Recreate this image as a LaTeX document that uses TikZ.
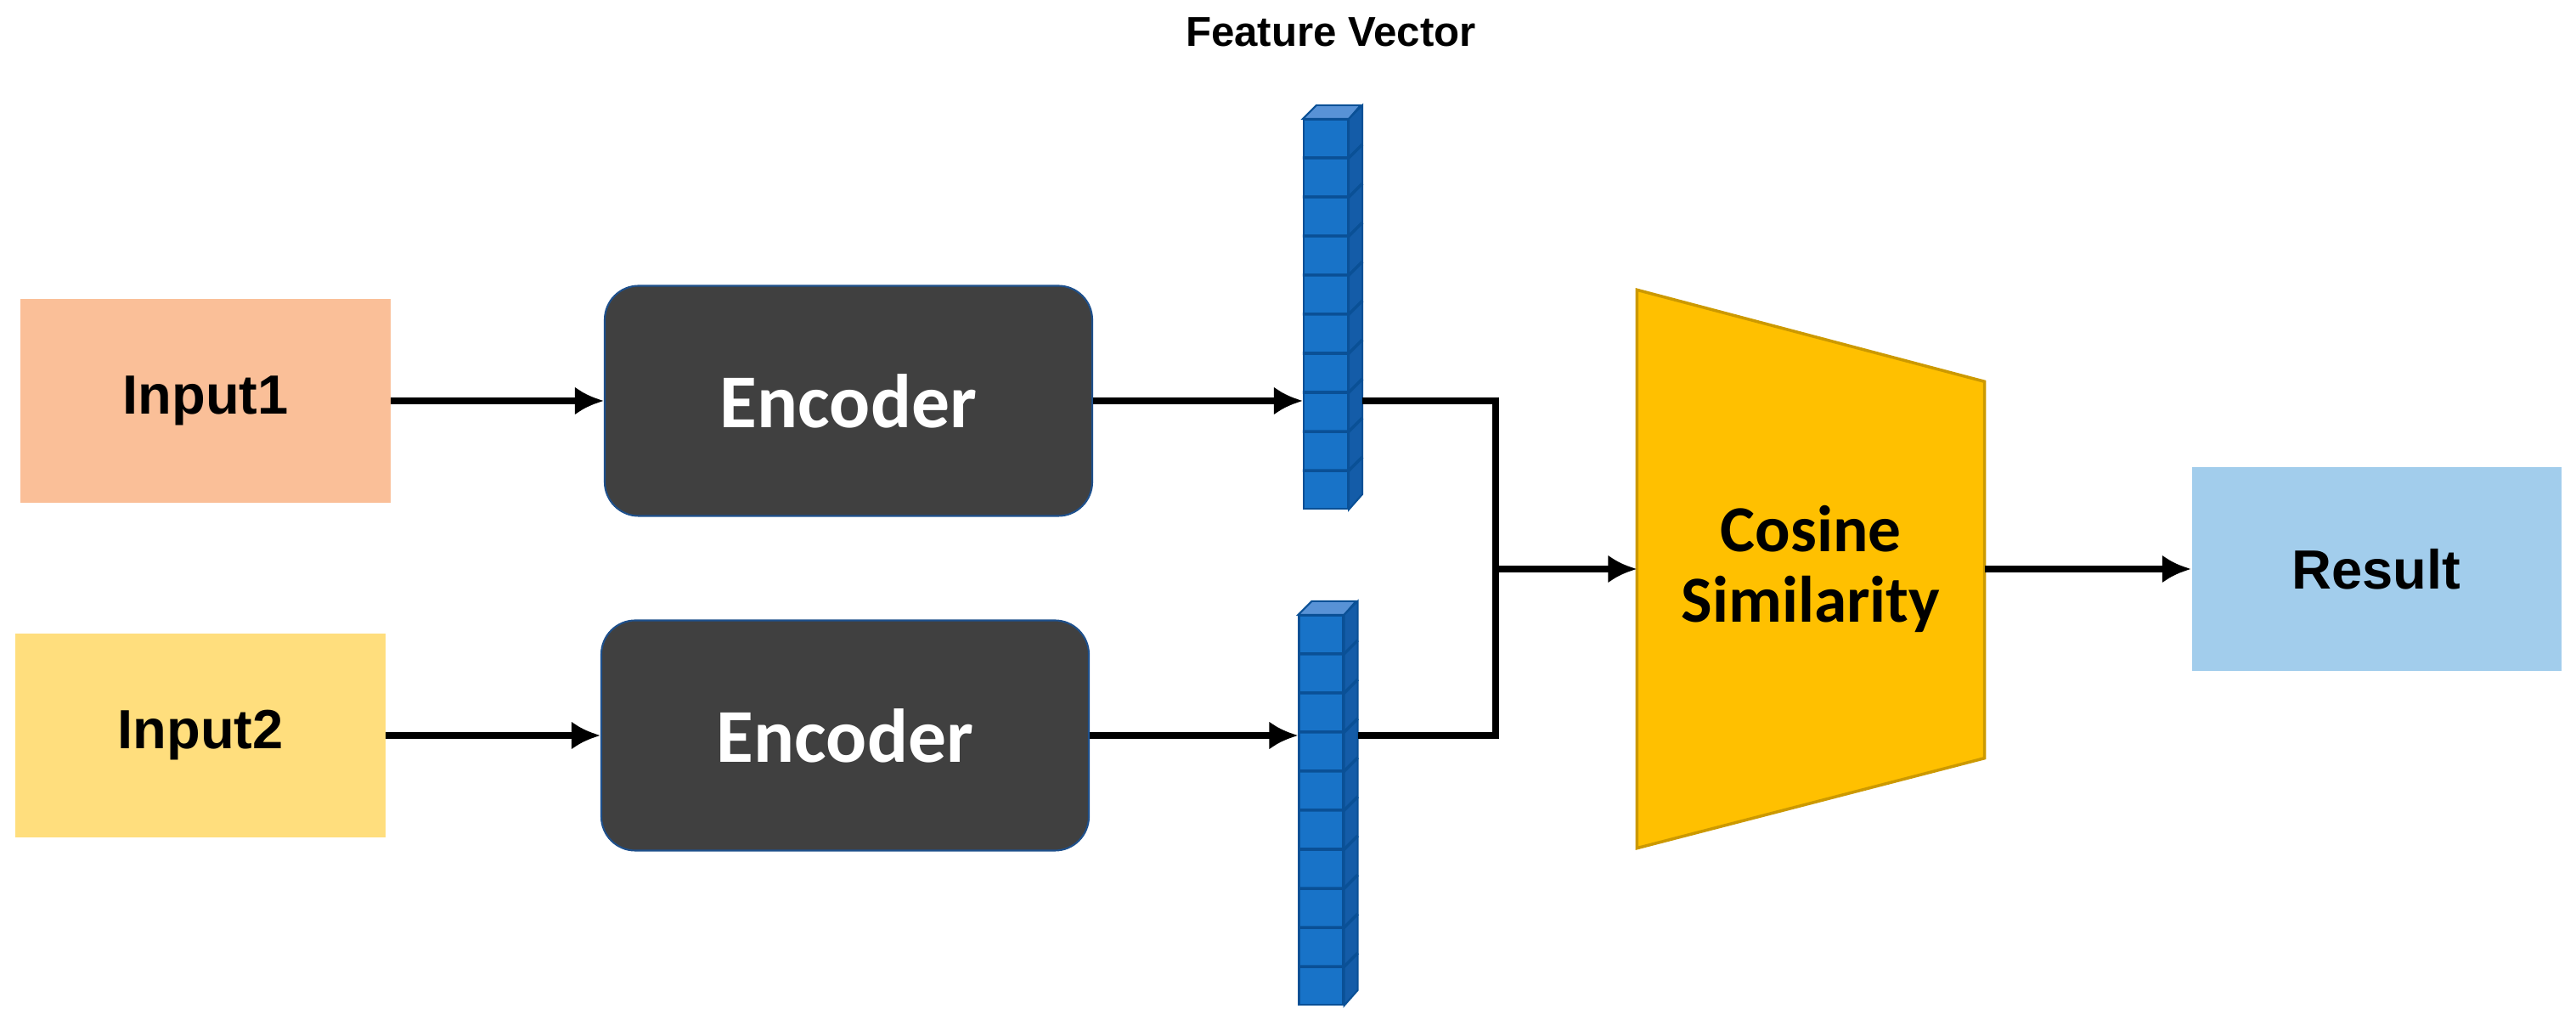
\documentclass[tikz,border=0pt]{standalone}
\usepackage{fontspec}
\setmainfont{Liberation Sans}
\newfontfamily\calfont{Carlito}
\usetikzlibrary{arrows.meta,calc,backgrounds}

\definecolor{inpeach}{RGB}{250,191,152}
\definecolor{inyellow}{RGB}{255,222,125}
\definecolor{resblue}{RGB}{162,205,236}
\definecolor{encgray}{RGB}{64,64,64}
\definecolor{encline}{RGB}{30,80,140}
\definecolor{cosgold}{RGB}{255,192,0}
\definecolor{cosline}{RGB}{204,153,0}
\definecolor{vecblue}{RGB}{24,115,200}
\definecolor{vectop}{RGB}{88,146,214}
\definecolor{vecside}{RGB}{20,92,168}
\definecolor{vecedge}{RGB}{10,80,150}

\begin{document}
\begin{tikzpicture}[link/.style = {line width=0.085cm}, arrow/.style = {link, -{Latex[length=0.34cm, width=0.33cm]}},
  inbox/.style = {rectangle, minimum width=4.35cm, minimum height=2.40cm, font=\bfseries\fontsize{18.5}{21}\selectfont},
  encbox/.style = {draw=encline, line width=0.6pt, fill=encgray, rounded corners=0.4cm, minimum width=5.74cm, minimum height=2.71cm, text=white, font=\calfont\bfseries\fontsize{25.5}{28}\selectfont},
  vecbox/.style = {draw=vecedge, line width=0.6pt, fill=vecblue, minimum width=0.52cm, minimum height=4.58cm, inner sep=0pt},
  cosbox/.style = {minimum width=4.08cm, minimum height=6.56cm, inner sep=0pt, align=center, font=\calfont\bfseries\fontsize{22}{23.6}\selectfont}]
\useasboundingbox (0,0) rectangle (30.33,12.01);

\node[inbox, fill=inpeach] (in1) at (2.42,7.29) {Input1};
\node[inbox, fill=inyellow] (in2) at (2.36,3.35) {Input2};
\node[encbox] (enc1) at (9.99,7.29) {Encoder};
\node[encbox] (enc2) at (9.95,3.35) {Encoder};
\node[vecbox] (vec1) at (15.61,8.31) {};
\node[vecbox] (vec2) at (15.555,2.47) {};
\node[anchor=base, font=\bfseries\fontsize{14}{16}\selectfont] (fvlabel) at (15.67,11.46) {Feature Vector};
\node[cosbox] (cos) at (21.32,5.31) {Cosine\\Similarity};
\node[inbox, fill=resblue] (res) at (27.98,5.31) {Result};
\coordinate (join) at (17.61,5.31);

% 3d faces and cells of the vectors
\foreach \v in {vec1, vec2} {
  \filldraw[fill=vectop, draw=vecedge, line width=0.6pt] (\v.north west) -- ++(0.16,0.16) -- ++(0.52,0) -- (\v.north east) -- cycle;
  \filldraw[fill=vecside, draw=vecedge, line width=0.6pt] (\v.north east) -- ++(0.16,0.16) -- ++(0,-4.58) -- (\v.south east) -- cycle;
  \foreach \k in {1,...,9}
    \draw[vecedge, line width=1pt] ($(\v.north west)!\k/10!(\v.south west)$) -- ($(\v.north east)!\k/10!(\v.south east)$) -- ++(0.16,0.16);
}

\begin{scope}[on background layer]
\filldraw[fill=cosgold, draw=cosline, line width=1pt] (cos.north west) -- ($(cos.north east)+(0,-1.08)$) -- ($(cos.south east)+(0,1.06)$) -- (cos.south west) -- cycle;
\end{scope}

\draw[arrow] (in1.east) -- (in1.east -| enc1.west);
\draw[arrow] (in2.east) -- (in2.east -| enc2.west);
\draw[arrow] (enc1.east) -- (enc1.east -| vec1.west);
\draw[arrow] (enc2.east) -- (enc2.east -| vec2.west);
\draw[link] ($(enc1.east -| vec1.east)+(0.16,0)$) -- (enc1.east -| join) -- (join);
\draw[link] ($(enc2.east -| vec2.east)+(0.16,0)$) -- (enc2.east -| join) -- (join);
\draw[arrow] (join) -- (join -| cos.west);
\draw[arrow] (cos.east) -- (res.west);
\end{tikzpicture}
\end{document}
